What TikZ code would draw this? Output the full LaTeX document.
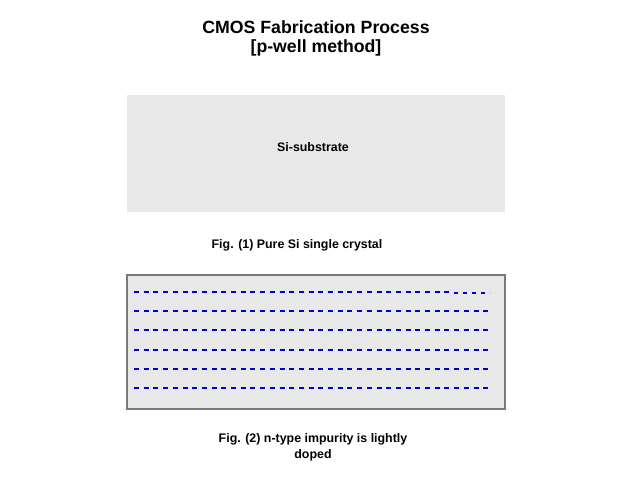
\documentclass[tikz,border=0pt]{standalone}
\usepackage{fontspec}
\setmainfont{Liberation Sans}
\begin{document}
\begin{tikzpicture}[x=1pt,y=-1pt,
  caption/.style={font=\bfseries\fontsize{12.4}{16}\selectfont, text=black, inner sep=0pt, align=center},
  titletext/.style={font=\bfseries\fontsize{17.7}{20}\selectfont, text=black, inner sep=0pt, align=center},
  dopant/.style={draw=blue!80!black, line width=2.2pt, dash pattern=on 5pt off 4.7pt}]
\useasboundingbox (0,0) rectangle (638,478);
\fill[white] (0,0) rectangle (638,478);
% title
\node[titletext] (t1) at (316,27) {CMOS Fabrication Process};
\node[titletext] (t2) at (316,48) {[p-well method]};
% Fig 1
\fill[gray!18] (127,95) rectangle (505,212);
\node[caption] (si) at (313,147) {Si-substrate};
\node[caption] (c1) at (297,245) {Fig. (1) Pure Si single crystal};
% Fig 2
\draw[draw=gray!95!black, line width=1.4pt, fill=gray!18] (127,275) rectangle (505,409);
\draw[dopant] (134,292) -- (450,292);
\draw[draw=blue!80!black, line width=2.2pt, dash pattern=on 4pt off 5pt] (454,293) -- (490,293);
\foreach \yy in {311,330,350,369,388}{
  \draw[dopant] (134,\yy) -- (490,\yy);
}
\node[caption] (c2) at (313,447) {Fig. (2) n-type impurity is lightly\\doped};
\end{tikzpicture}
\end{document}
